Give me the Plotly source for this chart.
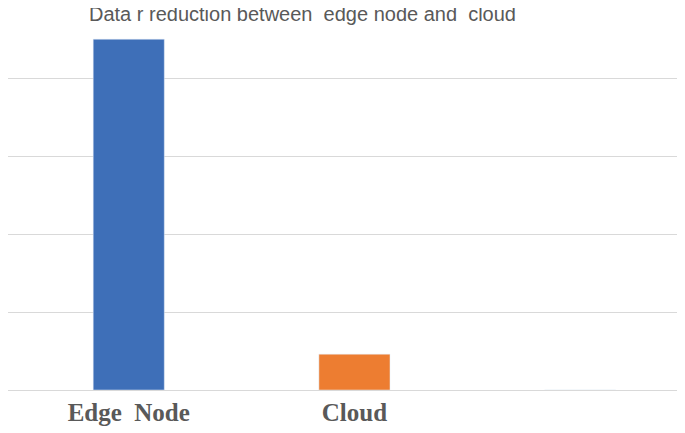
import plotly.graph_objects as go

categories = ["<b>Edge  Node</b>", "<b>Cloud</b>", ""]
values = [4.5, 0.46, 0]
colors = ["#3E6FB8", "#ED7D31", "#ffffff"]

fig = go.Figure()
fig.add_trace(go.Bar(x=[0, 1, 2], y=values, marker_color=colors, width=0.315))

fig.update_layout(
    width=685, height=433,
    margin=dict(l=0, r=0, t=0, b=51, autoexpand=False),
    paper_bgcolor="white", plot_bgcolor="white",
    showlegend=False,
    xaxis=dict(range=[-0.535, 2.5], tickvals=[0, 1, 2], ticktext=categories,
               tickfont=dict(family="Liberation Serif", size=25, color="#595959"),
               showline=True, linecolor="#d9d9d9", linewidth=1, ticks="",
               automargin=False),
    yaxis=dict(range=[0, 4.9], dtick=1, showticklabels=False, showgrid=True,
               gridcolor="#d9d9d9", zeroline=False, automargin=False),
    annotations=[dict(text="Data r reduction between  edge node and  cloud",
                      x=0.43, y=0.985, xref="paper", yref="paper",
                      xanchor="center", yanchor="middle", showarrow=False,
                      font=dict(family="Liberation Sans", size=20, color="#595959"))],
)
fig.write_html("out.html")
